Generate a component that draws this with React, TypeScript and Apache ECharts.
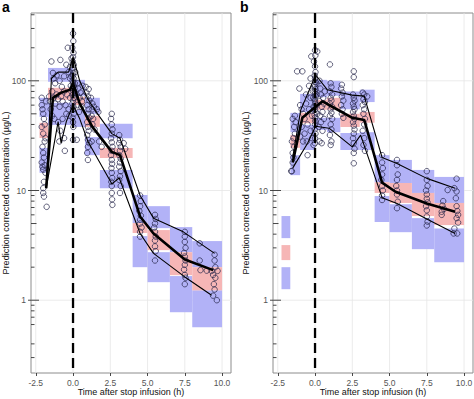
import { useEffect, useRef } from 'react';
import * as echarts from 'echarts';

const FONT = '"Liberation Sans", Arial, sans-serif';
const X_MIN = -2.82;
const X_MAX = 10.6;
const Y_MIN = 0.217;
const Y_MAX = 415;
const BLUE = 'rgb(178,178,247)';
const PINK = 'rgb(246,182,182)';
const GRIDC = '#e6e6e6';

const X_TITLE = 'Time after stop infusion (h)';
const Y_TITLE = 'Prediction corrected concentration (\u00b5g/L)';

const xTickValues = [-2.5, 0, 2.5, 5, 7.5, 10];
const yMajorValues = [1, 10, 100];
const yMidValues = [5, 50];
const yMinorValues = [0.3, 0.4, 0.6, 0.7, 0.8, 0.9, 2, 3, 4, 6, 7, 8, 9, 20, 30, 40, 60, 70, 80, 90, 200, 300, 400];

// ---------- panel a: prediction intervals per bin ----------
const binStartA = [-2.25, -1.68, 0.0, 0.8, 1.8, 4.0, 5.0, 6.5, 8.0];
const binEndA = [-1.68, 0.0, 0.8, 1.8, 4.0, 5.0, 6.5, 8.0, 10.0];
const p5LoA = [14.5, 39.6, 38, 21, 10.5, 2.0, 1.46, 0.777, 0.567];
const p5HiA = [24.4, 63, 54.5, 30.7, 15.4, 3.84, 2.74, 1.66, 1.23];
const p50LoA = [30.1, 67, 60.2, 38, 19.8, 4.1, 2.86, 1.69, 1.23];
const p50HiA = [41.4, 86.3, 71.5, 48, 24.4, 5.05, 4.36, 2.74, 2.0];
const p95LoA = [46.9, 98, 73, 50, 30, 5.05, 4.54, 2.74, 2.0];
const p95HiA = [70, 131, 102, 70, 40.5, 9.1, 7.2, 4.64, 3.46];

// ---------- panel b ----------
const binStartB = [-2.25, -1.65, -1.0, 0.0, 0.8, 1.7, 3.0, 4.0, 5.0, 6.5, 8.0];
const binEndB = [-1.66, -1.0, 0.0, 0.8, 1.7, 3.0, 4.0, 5.0, 6.5, 8.0, 10.0];
const p5LoB = [1.26, 13.8, 23.4, 35.7, 34, 23.4, 23.4, 5.16, 4.17, 2.92, 2.22];
const p5HiB = [2.0, 21, 39.6, 46, 46, 33.5, 34, 8.9, 7.5, 5.6, 4.5];
const p50LoB = [2.32, 24.5, 41, 54.5, 54.5, 38, 41.5, 9.5, 7.7, 5.85, 4.84];
const p50HiB = [3.18, 32, 51, 67, 70, 50, 52, 11.9, 11.7, 9.5, 7.7];
const p95LoB = [3.68, 34, 52, 71, 73, 55, 64, 11.9, 11.7, 9.5, 7.7];
const p95HiB = [5.85, 51, 76, 102, 100, 80, 83, 21, 19, 15.4, 13.3];

// ---------- observed percentile lines ----------
const obsP95A = [[-1.8, 10.5], [-1.45, 105], [-1.0, 120], [-0.3, 120], [0, 165], [0.45, 100], [1.0, 68], [1.6, 51], [2.6, 33], [3.15, 30], [4.5, 9], [5.4, 5.6], [7.4, 4.2], [9.5, 2.67]];
const obsP50A = [[-1.8, 10.5], [-1.35, 70], [-0.8, 78], [-0.2, 83], [0, 95], [0.45, 62], [1.3, 38], [2.6, 22.5], [3.15, 21], [4.5, 5.8], [5.4, 4.06], [7.5, 2.35], [9.4, 1.88]];
const obsP5A = [[-1.8, 10.5], [-1.0, 42.5], [-0.8, 27], [-0.45, 42.5], [0, 60], [0.45, 45], [1.0, 28], [2.6, 11.5], [3.1, 13], [4.5, 4.06], [5.4, 2.67], [7.5, 1.63], [9.3, 1.11]];

const obsP95B = [[-1.5, 20], [-0.96, 54], [0.04, 113], [0.82, 83], [2.5, 74], [3.3, 72.5], [4.5, 20], [5.5, 17.6], [7.5, 12.9], [9.4, 10.5]];
const obsP50B = [[-1.5, 18], [-0.85, 46], [0.04, 58], [0.5, 65], [1.16, 58], [2.5, 46], [3.3, 44], [4.5, 11.8], [5.4, 9.75], [7.5, 7.6], [9.4, 6.4]];
const obsP5B = [[-1.5, 16], [-0.5, 27], [0.04, 38.5], [0.94, 37], [2.5, 25], [3.06, 32], [4.5, 8.6], [5.5, 7.6], [7.5, 5.5], [9.4, 4.06]];

// ---------- observations ----------
const obsA = [
  [-2.1, 60], [-2.05, 55], [-2.0, 50], [-1.95, 45], [-2.1, 38], [-2.0, 33], [-1.9, 28], [-2.05, 25], [-2.0, 22], [-1.95, 20],
  [-2.1, 18], [-1.9, 17], [-2.0, 15.5], [-1.85, 14.5], [-2.05, 16.5], [-1.95, 12], [-2.0, 10.5], [-2.0, 9.5], [-1.95, 8.8], [-1.77, 7.1],
  [-1.85, 30], [-1.9, 40], [-1.8, 65], [-2.1, 70],
  [-1.45, 150], [-1.35, 118], [-1.3, 105], [-1.2, 95], [-1.1, 112], [-0.85, 155], [-0.9, 100], [-0.75, 88], [-0.6, 110], [-0.45, 140],
  [-0.35, 200], [-0.3, 120], [-0.2, 105], [-0.15, 90], [-1.4, 80], [-1.3, 70], [-1.2, 62], [-1.1, 75], [-1.0, 68], [-0.9, 58],
  [-0.8, 72], [-0.7, 65], [-0.6, 80], [-0.5, 60], [-0.4, 75], [-0.3, 55], [-0.2, 70], [-1.5, 55], [-1.4, 48], [-1.25, 45],
  [-1.0, 42], [-0.92, 28], [-0.85, 35], [-0.7, 45], [-0.55, 23], [-0.45, 50], [-0.6, 30], [-0.25, 48], [-1.55, 65], [-1.6, 72], [-0.2, 134],
  [0.0, 270], [0.02, 230], [-0.05, 200], [0.03, 180], [0.0, 165], [-0.02, 150], [0.05, 140], [0.0, 130], [-0.05, 125], [0.02, 118],
  [0.0, 112], [0.04, 105], [-0.03, 100], [0.0, 95], [0.05, 90], [-0.04, 86], [0.02, 82], [0.0, 78], [-0.02, 74], [0.04, 70],
  [0.0, 66], [-0.04, 62], [0.03, 58], [0.0, 55], [0.05, 50], [-0.03, 46], [0.0, 42], [0.02, 38], [0.0, 29], [0.1, 85],
  [0.12, 95], [0.1, 70], [-0.12, 110], [-0.1, 160], [0.15, 120],
  [0.3, 95], [0.35, 85], [0.5, 78], [0.45, 70], [0.6, 65], [0.3, 60], [0.55, 58], [0.65, 90], [0.4, 52], [0.25, 75], [0.7, 72], [0.25, 29],
  [0.9, 78], [1.0, 72], [1.1, 66], [0.95, 60], [1.05, 55], [1.0, 50], [1.1, 46], [0.95, 42], [1.0, 38], [1.05, 35],
  [0.95, 32], [1.0, 29], [1.1, 27], [1.0, 25], [0.95, 22], [1.0, 19], [1.3, 55], [1.35, 45], [1.3, 40], [1.25, 48],
  [1.4, 58], [1.2, 70], [1.3, 62], [1.45, 36], [1.6, 55], [1.7, 52], [0.85, 88], [1.05, 84], [1.25, 28], [1.92, 25], [1.75, 28],
  [2.6, 50], [2.55, 45], [2.6, 40], [2.65, 36], [2.6, 33], [2.55, 30], [2.6, 27.5], [2.65, 25], [2.6, 23], [2.55, 21],
  [2.6, 19], [2.62, 17.5], [2.58, 16], [2.6, 14.5], [2.63, 13], [2.57, 12], [2.6, 11], [2.6, 9.5], [2.62, 8.3], [2.64, 7.4],
  [3.1, 32], [3.15, 29], [3.1, 27], [3.2, 25], [3.15, 23], [3.1, 21], [3.2, 19.5], [3.15, 18], [3.1, 16.5], [3.2, 15],
  [3.15, 13.5], [3.1, 12.5], [3.2, 11], [3.15, 9.5], [3.4, 27], [3.5, 24],
  [4.5, 9], [4.55, 8], [4.5, 7.2], [4.45, 6.5], [4.55, 5.9], [4.5, 5.4], [4.5, 5], [4.6, 4.6], [4.5, 4.2], [4.5, 3.8],
  [5.5, 6.0], [5.55, 5.5], [5.5, 5.0], [5.45, 4.6], [5.5, 4.2], [5.55, 3.8], [5.5, 3.5], [5.5, 3.1], [5.55, 2.8], [5.5, 2.3],
  [7.5, 4.2], [7.5, 3.8], [7.5, 3.4], [7.55, 3.0], [7.45, 2.7], [7.5, 2.5], [7.55, 2.3], [7.5, 2.1], [7.45, 1.9], [7.5, 1.7],
  [7.55, 1.6], [7.5, 1.4], [8.5, 3.3], [8.5, 2.3], [8.55, 1.88], [8.97, 1.86],
  [9.5, 2.6], [9.5, 2.3], [9.55, 2.0], [9.7, 1.85], [9.4, 1.7], [9.55, 1.6], [9.45, 1.4], [9.5, 1.25], [9.4, 1.1], [9.65, 1.0], [9.3, 1.85],
];

const obsB = [
  [-1.6, 15], [-1.55, 15], [-1.5, 18], [-1.45, 20], [-1.5, 22], [-1.4, 25], [-1.55, 28], [-1.45, 30], [-1.35, 33], [-1.4, 38],
  [-1.3, 42], [-1.5, 45], [-1.35, 48],
  [-1.2, 122], [-1.05, 85], [-0.85, 122], [-1.0, 60], [-0.9, 55], [-0.8, 50], [-0.7, 45], [-0.6, 62], [-0.5, 40], [-0.4, 55],
  [-0.3, 70], [-0.2, 48], [-0.9, 38], [-0.7, 33], [-0.55, 28], [-0.5, 21], [-0.3, 35], [-0.2, 30], [-0.1, 26], [-0.8, 28],
  [-1.0, 31], [-0.6, 75], [-0.4, 90], [-0.15, 80], [-0.3, 105], [-0.25, 167], [-0.07, 150],
  [0, 190], [0.02, 170], [0.15, 185], [0.0, 135], [0.03, 120], [-0.02, 112], [0.0, 105], [0.04, 98], [-0.03, 92], [0.0, 88],
  [0.03, 84], [-0.02, 80], [0.0, 76], [0.04, 72], [-0.04, 68], [0.0, 65], [0.03, 62], [-0.02, 58], [0.0, 55], [0.04, 52],
  [-0.03, 49], [0.0, 46], [0.02, 43], [0.0, 40], [-0.02, 36], [0.03, 33], [0.0, 30], [0.0, 27], [0.1, 95], [0.12, 75],
  [0.1, 60], [0.15, 50], [-0.12, 70], [-0.1, 58],
  [0.3, 100], [0.35, 85], [0.4, 75], [0.3, 65], [0.45, 58], [0.5, 52], [0.35, 48], [0.55, 70], [0.6, 62], [0.4, 42],
  [0.25, 38], [0.5, 35], [0.6, 45], [0.65, 80], [0.3, 28], [0.45, 27],
  [1.0, 141], [1.05, 95], [1.1, 88], [1.0, 80], [1.15, 75], [1.05, 70], [1.1, 66], [1.0, 62], [1.15, 58], [1.05, 55],
  [1.1, 51], [1.0, 48], [1.15, 45], [1.05, 40], [1.1, 36], [1.0, 32], [1.1, 28], [1.05, 26],
  [1.8, 92], [1.75, 85], [1.85, 78], [1.8, 72], [1.9, 66], [1.75, 60], [1.85, 55], [1.8, 50], [1.9, 46],
  [2.6, 122], [2.6, 108], [2.55, 75], [2.6, 70], [2.65, 66], [2.55, 62], [2.6, 58], [2.65, 55], [2.55, 52], [2.6, 48],
  [2.65, 45], [2.55, 42], [2.6, 39], [2.65, 36], [2.6, 33], [2.55, 30], [2.6, 27], [2.65, 24], [2.6, 22], [2.6, 17.7],
  [3.2, 78], [3.3, 75], [3.5, 72], [3.25, 68], [3.35, 64], [3.2, 60], [3.3, 55], [3.25, 50], [3.35, 45], [3.3, 40],
  [3.2, 35], [3.3, 30], [3.25, 26], [3.35, 23],
  [4.5, 21], [4.5, 18], [4.55, 16], [4.5, 14], [4.45, 12.5], [4.5, 11], [4.55, 10], [4.5, 9], [4.5, 8.2],
  [5.5, 19], [5.5, 17], [5.55, 14], [5.5, 12.5], [5.45, 11], [5.5, 10], [5.5, 9.2], [5.55, 7.9], [5.5, 6.9],
  [7.5, 15], [7.5, 12.5], [7.55, 11], [7.45, 10], [7.5, 9.2], [7.5, 8.4], [7.55, 7.8], [7.45, 7.2], [7.5, 6.6], [7.5, 5.8],
  [7.55, 5.2], [7.5, 4.8],
  [8.6, 8], [8.55, 7.3], [8.65, 6.8], [8.9, 10.1], [8.5, 6.4], [8.5, 6.0],
  [9.5, 12.8], [9.5, 9.8], [9.45, 8.5], [9.5, 7.2], [9.55, 6.5], [9.6, 6.0], [9.5, 5.6], [9.6, 5.1], [9.35, 4.5], [9.3, 4.06],
  [9.54, 4.06], [9.35, 10.5],
];

function bandRows(start: number[], end: number[], lo: number[], hi: number[], kind: number) {
  return start.map((s, i) => [s, end[i], lo[i], hi[i], kind]);
}

const renderBand = (_p: any, api: any) => {
  const tl = api.coord([api.value(0), api.value(3)]);
  const br = api.coord([api.value(1), api.value(2)]);
  return {
    type: 'rect',
    shape: { x: tl[0], y: tl[1], width: br[0] - tl[0], height: br[1] - tl[1] },
    style: { fill: api.value(4) === 1 ? PINK : BLUE },
  };
};

const renderVGrid = (params: any, api: any) => {
  const cs = params.coordSys;
  const p = api.coord([api.value(0), 1]);
  return { type: 'line', shape: { x1: p[0], y1: cs.y, x2: p[0], y2: cs.y + cs.height }, style: { stroke: GRIDC, lineWidth: 0.8 } };
};

const renderHGrid = (params: any, api: any) => {
  const cs = params.coordSys;
  const p = api.coord([0, api.value(1)]);
  return { type: 'line', shape: { x1: cs.x, y1: p[1], x2: cs.x + cs.width, y2: p[1] }, style: { stroke: GRIDC, lineWidth: 0.8 } };
};

const renderYTick = (params: any, api: any) => {
  const cs = params.coordSys;
  const p = api.coord([X_MIN, api.value(1)]);
  const len = api.value(2);
  const out = len > 7 ? 3 : 0;
  return { type: 'line', shape: { x1: cs.x - out, y1: p[1], x2: cs.x + len, y2: p[1] }, style: { stroke: '#333', lineWidth: 0.9 } };
};

const renderDash = (params: any, api: any) => {
  const cs = params.coordSys;
  const p = api.coord([api.value(0), 1]);
  return {
    type: 'line',
    shape: { x1: p[0], y1: cs.y, x2: p[0], y2: cs.y + cs.height },
    style: { stroke: '#000', lineWidth: 2.3, lineDash: [10, 5] },
  };
};

function panelSeries(idx: number, bands: number[][], obs: number[][], l5: number[][], l50: number[][], l95: number[][]) {
  const ax = { xAxisIndex: idx, yAxisIndex: idx };
  const ticks = [
    ...yMajorValues.map((v) => [X_MIN, v, 8]),
    ...yMidValues.map((v) => [X_MIN, v, 5.5]),
    ...yMinorValues.map((v) => [X_MIN, v, 3.5]),
  ];
  return [
    { type: 'custom', ...ax, z: 0, silent: true, renderItem: renderVGrid, encode: { x: 0, y: 1 }, data: xTickValues.map((v) => [v, 1]) },
    { type: 'custom', ...ax, z: 0, silent: true, renderItem: renderHGrid, encode: { x: 0, y: 1 }, data: yMajorValues.map((v) => [0, v]) },
    { type: 'custom', ...ax, z: 1, silent: true, renderItem: renderBand, encode: { x: [0, 1], y: [2, 3] }, data: bands },
    {
      type: 'scatter', ...ax, z: 3, symbol: 'circle', symbolSize: 5.5, data: obs,
      itemStyle: { color: 'rgba(0,0,0,0)', borderColor: '#26264a', borderWidth: 0.9 },
    },
    { type: 'line', ...ax, z: 4, data: l5, showSymbol: false, symbol: 'none', lineStyle: { color: '#000', width: 1.1 } },
    { type: 'line', ...ax, z: 4, data: l95, showSymbol: false, symbol: 'none', lineStyle: { color: '#000', width: 1.1 } },
    { type: 'line', ...ax, z: 4, data: l50, showSymbol: false, symbol: 'none', lineStyle: { color: '#000', width: 2.6 } },
    { type: 'custom', ...ax, z: 5, silent: true, renderItem: renderDash, encode: { x: 0, y: 1 }, data: [[0, 1]] },
    { type: 'custom', ...ax, z: 6, silent: true, renderItem: renderYTick, encode: { x: 0, y: 1 }, data: ticks },
  ];
}

function xAxisDef(idx: number) {
  return {
    type: 'value', gridIndex: idx, min: X_MIN, max: X_MAX,
    axisLine: { show: false },
    splitLine: { show: false },
    axisTick: { show: true, length: 3, customValues: xTickValues, lineStyle: { color: '#333', width: 0.9 } },
    axisLabel: {
      customValues: xTickValues, fontFamily: FONT, fontSize: 8.5, color: '#555', margin: 5,
      formatter: (v: number) => v.toFixed(1),
    },
  };
}

function yAxisDef(idx: number) {
  return {
    type: 'log', logBase: 10, gridIndex: idx, min: Y_MIN, max: Y_MAX,
    axisLine: { show: false },
    splitLine: { show: false },
    axisTick: { show: false },
    axisLabel: { fontFamily: FONT, fontSize: 8.5, color: '#555', margin: 5, showMinLabel: false, showMaxLabel: false },
  };
}

const titleFont = `9px ${FONT}`;

export default function App() {
  const ref = useRef<HTMLDivElement>(null);
  useEffect(() => {
    if (!ref.current) return;
    const chart = echarts.init(ref.current, undefined, { renderer: 'svg' });
    const bandsA = [
      ...bandRows(binStartA, binEndA, p95LoA, p95HiA, 0),
      ...bandRows(binStartA, binEndA, p5LoA, p5HiA, 0),
      ...bandRows(binStartA, binEndA, p50LoA, p50HiA, 1),
    ];
    const bandsB = [
      ...bandRows(binStartB, binEndB, p95LoB, p95HiB, 0),
      ...bandRows(binStartB, binEndB, p5LoB, p5HiB, 0),
      ...bandRows(binStartB, binEndB, p50LoB, p50HiB, 1),
    ];
    chart.setOption({
      animation: false,
      backgroundColor: '#fff',
      grid: [
        { left: 31, top: 13, width: 200, height: 360, show: true, borderColor: '#8c8c8c', borderWidth: 1, containLabel: false, outerBoundsMode: 'none' },
        { left: 273, top: 13, width: 200, height: 360, show: true, borderColor: '#8c8c8c', borderWidth: 1, containLabel: false, outerBoundsMode: 'none' },
      ],
      xAxis: [xAxisDef(0), xAxisDef(1)],
      yAxis: [yAxisDef(0), yAxisDef(1)],
      graphic: [
        { type: 'text', left: 2, top: 0, style: { text: 'a', font: `bold 14px ${FONT}`, fill: '#000' } },
        { type: 'text', left: 240, top: 0, style: { text: 'b', font: `bold 14px ${FONT}`, fill: '#000' } },
        { type: 'text', x: 131, y: 392, style: { text: X_TITLE, font: titleFont, fill: '#111', align: 'center', verticalAlign: 'middle' } },
        { type: 'text', x: 373, y: 392, style: { text: X_TITLE, font: titleFont, fill: '#111', align: 'center', verticalAlign: 'middle' } },
        { type: 'text', x: 6, y: 193, rotation: Math.PI / 2, style: { text: Y_TITLE, font: titleFont, fill: '#111', align: 'center', verticalAlign: 'middle' } },
        { type: 'text', x: 246, y: 193, rotation: Math.PI / 2, style: { text: Y_TITLE, font: titleFont, fill: '#111', align: 'center', verticalAlign: 'middle' } },
      ],
      series: [
        ...panelSeries(0, bandsA, obsA, obsP5A, obsP50A, obsP95A),
        ...panelSeries(1, bandsB, obsB, obsP5B, obsP50B, obsP95B),
      ],
    });
    return () => chart.dispose();
  }, []);
  return <div ref={ref} style={{ position: 'fixed', left: 0, top: 0, width: 474, height: 399 }} />;
}
